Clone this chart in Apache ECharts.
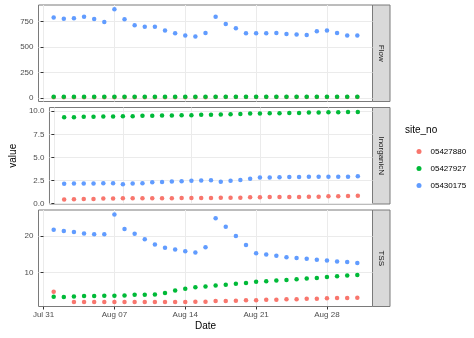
<!DOCTYPE html>
<html><head><meta charset="utf-8">
<script src="https://cdn.jsdelivr.net/npm/echarts@6/dist/echarts.min.js"></script>
<style>html,body{margin:0;padding:0;background:#fff}#c{width:474px;height:338px}</style>
</head><body><div id="c"></div>
<script>
// Days after Jul 31 (1 = Aug 01 ... 31 = Aug 31)
const days = [1,2,3,4,5,6,7,8,9,10,11,12,13,14,15,16,17,18,19,20,21,22,23,24,25,26,27,28,29,30,31];
const sites = ['05427880','05427927','05430175'];
const panels = ['Flow','InorganicN','TSS'];

const xTickDays = [0,7,14,21,28];
const xTickLabels = ['Jul 31','Aug 07','Aug 14','Aug 21','Aug 28'];
const xMinorDays = [3.5,10.5,17.5,24.5,31.5];

const flowTicks = [0,250,500,750];
const flowTickLabels = ['0','250','500','750'];
const flowMinor = [125,375,625,875];
const inorgTicks = [0,2.5,5,7.5,10];
const inorgTickLabels = ['0.0','2.5','5.0','7.5','10.0'];
const inorgMinor = [1.25,3.75,6.25,8.75];
const tssTicks = [10,20];
const tssTickLabels = ['10','20'];
const tssMinor = [5,15,25];

// Flow
const flowRed   = [8,8,8,8,8,8,8,8,8,8,8,8,8,8,8,8,9,9,9,9,9,9,9,9,9,9,9,9,9,9,9];
const flowGreen = [12,12,12,12,12,12,12,12,12,12,12,12,12,12,12,12,12,12,12,12,12,12,12,12,12,12,12,12,12,12,12];
const flowBlue  = [792,779,783,799,776,747,871,773,714,701,701,662,636,613,603,639,799,727,685,636,636,636,639,629,623,620,655,662,639,613,613];

// InorganicN
const inorgRed   = [0.43,0.46,0.50,0.50,0.54,0.54,0.57,0.57,0.57,0.57,0.57,0.57,0.61,0.61,0.61,0.61,0.64,0.64,0.64,0.68,0.68,0.71,0.71,0.71,0.71,0.75,0.75,0.79,0.79,0.82,0.86];
const inorgGreen = [9.36,9.36,9.39,9.39,9.43,9.43,9.46,9.46,9.50,9.50,9.54,9.54,9.57,9.57,9.61,9.62,9.64,9.68,9.71,9.75,9.75,9.79,9.79,9.82,9.82,9.86,9.86,9.89,9.89,9.93,9.93];
const inorgBlue  = [2.14,2.18,2.18,2.18,2.21,2.21,2.10,2.18,2.21,2.32,2.35,2.39,2.43,2.46,2.50,2.53,2.37,2.46,2.55,2.68,2.82,2.83,2.86,2.87,2.87,2.90,2.90,2.91,2.91,2.91,2.95];

// TSS
const tssRed   = [4.77,null,1.95,1.95,1.97,1.97,1.97,1.97,1.97,1.97,2.0,2.0,2.0,2.0,2.03,2.07,2.25,2.25,2.34,2.43,2.43,2.61,2.61,2.7,2.7,2.88,2.88,2.97,3.06,3.06,3.15];
const tssGreen = [3.42,3.33,3.51,3.6,3.6,3.69,3.69,3.78,3.96,3.96,4.05,4.41,5.14,5.59,6.04,6.2,6.5,6.67,6.94,7.2,7.48,7.66,7.84,8.02,8.2,8.38,8.56,8.83,9.0,9.19,9.37];
const tssBlue  = [21.7,21.35,21.1,20.7,20.5,20.5,25.9,21.9,20.6,19.1,17.66,16.76,16.3,15.86,15.5,16.94,24.86,22.5,20.0,17.57,15.3,14.95,14.6,14.2,13.96,13.8,13.5,13.3,13.06,12.9,12.6];

const colors = ['#F8766D','#00BA38','#619CFF'];
const FONT = 'Liberation Sans, Arial, sans-serif';

const panelData = [
  [flowRed, flowGreen, flowBlue],
  [inorgRed, inorgGreen, inorgBlue],
  [tssRed, tssGreen, tssBlue]
];
const yCfg = [
  {min:-35, max:914, ticks:flowTicks, labels:flowTickLabels, minor:flowMinor},
  {min:-0.045, max:10.405, ticks:inorgTicks, labels:inorgTickLabels, minor:inorgMinor},
  {min:0.75, max:27.1, ticks:tssTicks, labels:tssTickLabels, minor:tssMinor}
];

const L = 38.5, W = 334, H = 96.5;
const tops = [5, 107.5, 210];

const grids = tops.map(t => ({left:L, top:t, width:W, height:H, show:true, borderColor:'#7a7a7a', borderWidth:1, backgroundColor:'#fff', containLabel:false}));

const xAxes = [], yAxes = [];
for (let g = 0; g < 3; g++) {
  const last = g === 2;
  xAxes.push({
    type:'value', gridIndex:g, min:-0.5, max:32.5,
    axisLine:{show:false},
    axisTick:{show:last, customValues:xTickDays, length:3, lineStyle:{color:'#333'}},
    axisLabel:{show:last, customValues:xTickDays, margin:4.5, fontSize:8, fontFamily:FONT, color:'#4D4D4D',
      formatter:v => xTickLabels[xTickDays.indexOf(v)]},
    splitLine:{show:true, lineStyle:{color:'#EBEBEB', width:1}},
    name: last ? 'Date' : '', nameLocation:'middle', nameGap:15,
    nameTextStyle:{fontSize:10, fontFamily:FONT, color:'#000'}
  });
  xAxes.push({
    type:'value', gridIndex:g, min:-0.5, max:32.5,
    axisLine:{show:false}, axisTick:{show:false, customValues:xMinorDays}, axisLabel:{show:false},
    splitLine:{show:true, lineStyle:{color:'#F5F5F5', width:1}}, z:-1
  });
  const c = yCfg[g];
  yAxes.push({
    type:'value', gridIndex:g, min:c.min, max:c.max,
    axisLine:{show:false},
    axisTick:{show:true, customValues:c.ticks, length:3, lineStyle:{color:'#333'}},
    axisLabel:{show:true, customValues:c.ticks, margin:5, fontSize:8, fontFamily:FONT, color:'#4D4D4D',
      formatter:v => c.labels[c.ticks.indexOf(v)]},
    splitLine:{show:true, lineStyle:{color:'#EBEBEB', width:1}},
    name: g === 1 ? 'value' : '', nameLocation:'middle', nameGap:25, nameRotate:90,
    nameTextStyle:{fontSize:10, fontFamily:FONT, color:'#000'}
  });
  yAxes.push({
    type:'value', gridIndex:g, min:c.min, max:c.max,
    axisLine:{show:false}, axisTick:{show:false, customValues:c.minor}, axisLabel:{show:false},
    splitLine:{show:true, lineStyle:{color:'#F5F5F5', width:1}}, z:-1
  });
}

const series = [];
for (let g = 0; g < 3; g++) {
  for (let s = 0; s < 3; s++) {
    const arr = panelData[g][s];
    series.push({
      type:'scatter', name:sites[s], xAxisIndex:g*2, yAxisIndex:g*2,
      symbol:'circle', symbolSize:4.5, itemStyle:{color:colors[s], opacity:1},
      data: days.map((d,i) => [d, arr[i]]).filter(p => p[1] !== null),
      emphasis:{disabled:true}
    });
  }
}

const graphics = [];
tops.forEach((t, i) => {
  graphics.push({type:'rect', shape:{x:L+W, y:t, width:17.5, height:H}, style:{fill:'#D9D9D9', stroke:'#7a7a7a', lineWidth:1}});
  graphics.push({type:'text', x:L+W+8.75, y:t+H/2, rotation:-Math.PI/2,
    style:{text:panels[i], font:'8px ' + FONT, fill:'#1A1A1A', textAlign:'center', textVerticalAlign:'middle', align:'center', verticalAlign:'middle'}});
});

const chart = echarts.init(document.getElementById('c'), null, {renderer:'canvas'});
chart.setOption({
  animation:false,
  backgroundColor:'#fff',
  title:{text:'site_no', left:405, top:125, padding:0, textStyle:{fontSize:10, fontWeight:'normal', fontFamily:FONT, color:'#000'}},
  legend:{orient:'vertical', left:411.5, top:141.5, itemWidth:5, itemHeight:5, itemGap:7, icon:'circle',
    data:sites, itemStyle:{opacity:1}, textStyle:{fontSize:8, fontFamily:FONT, color:'#000', lineHeight:10, padding:[0,0,0,4]}},
  grid:grids, xAxis:xAxes, yAxis:yAxes, series:series, graphic:graphics
});
</script></body></html>
